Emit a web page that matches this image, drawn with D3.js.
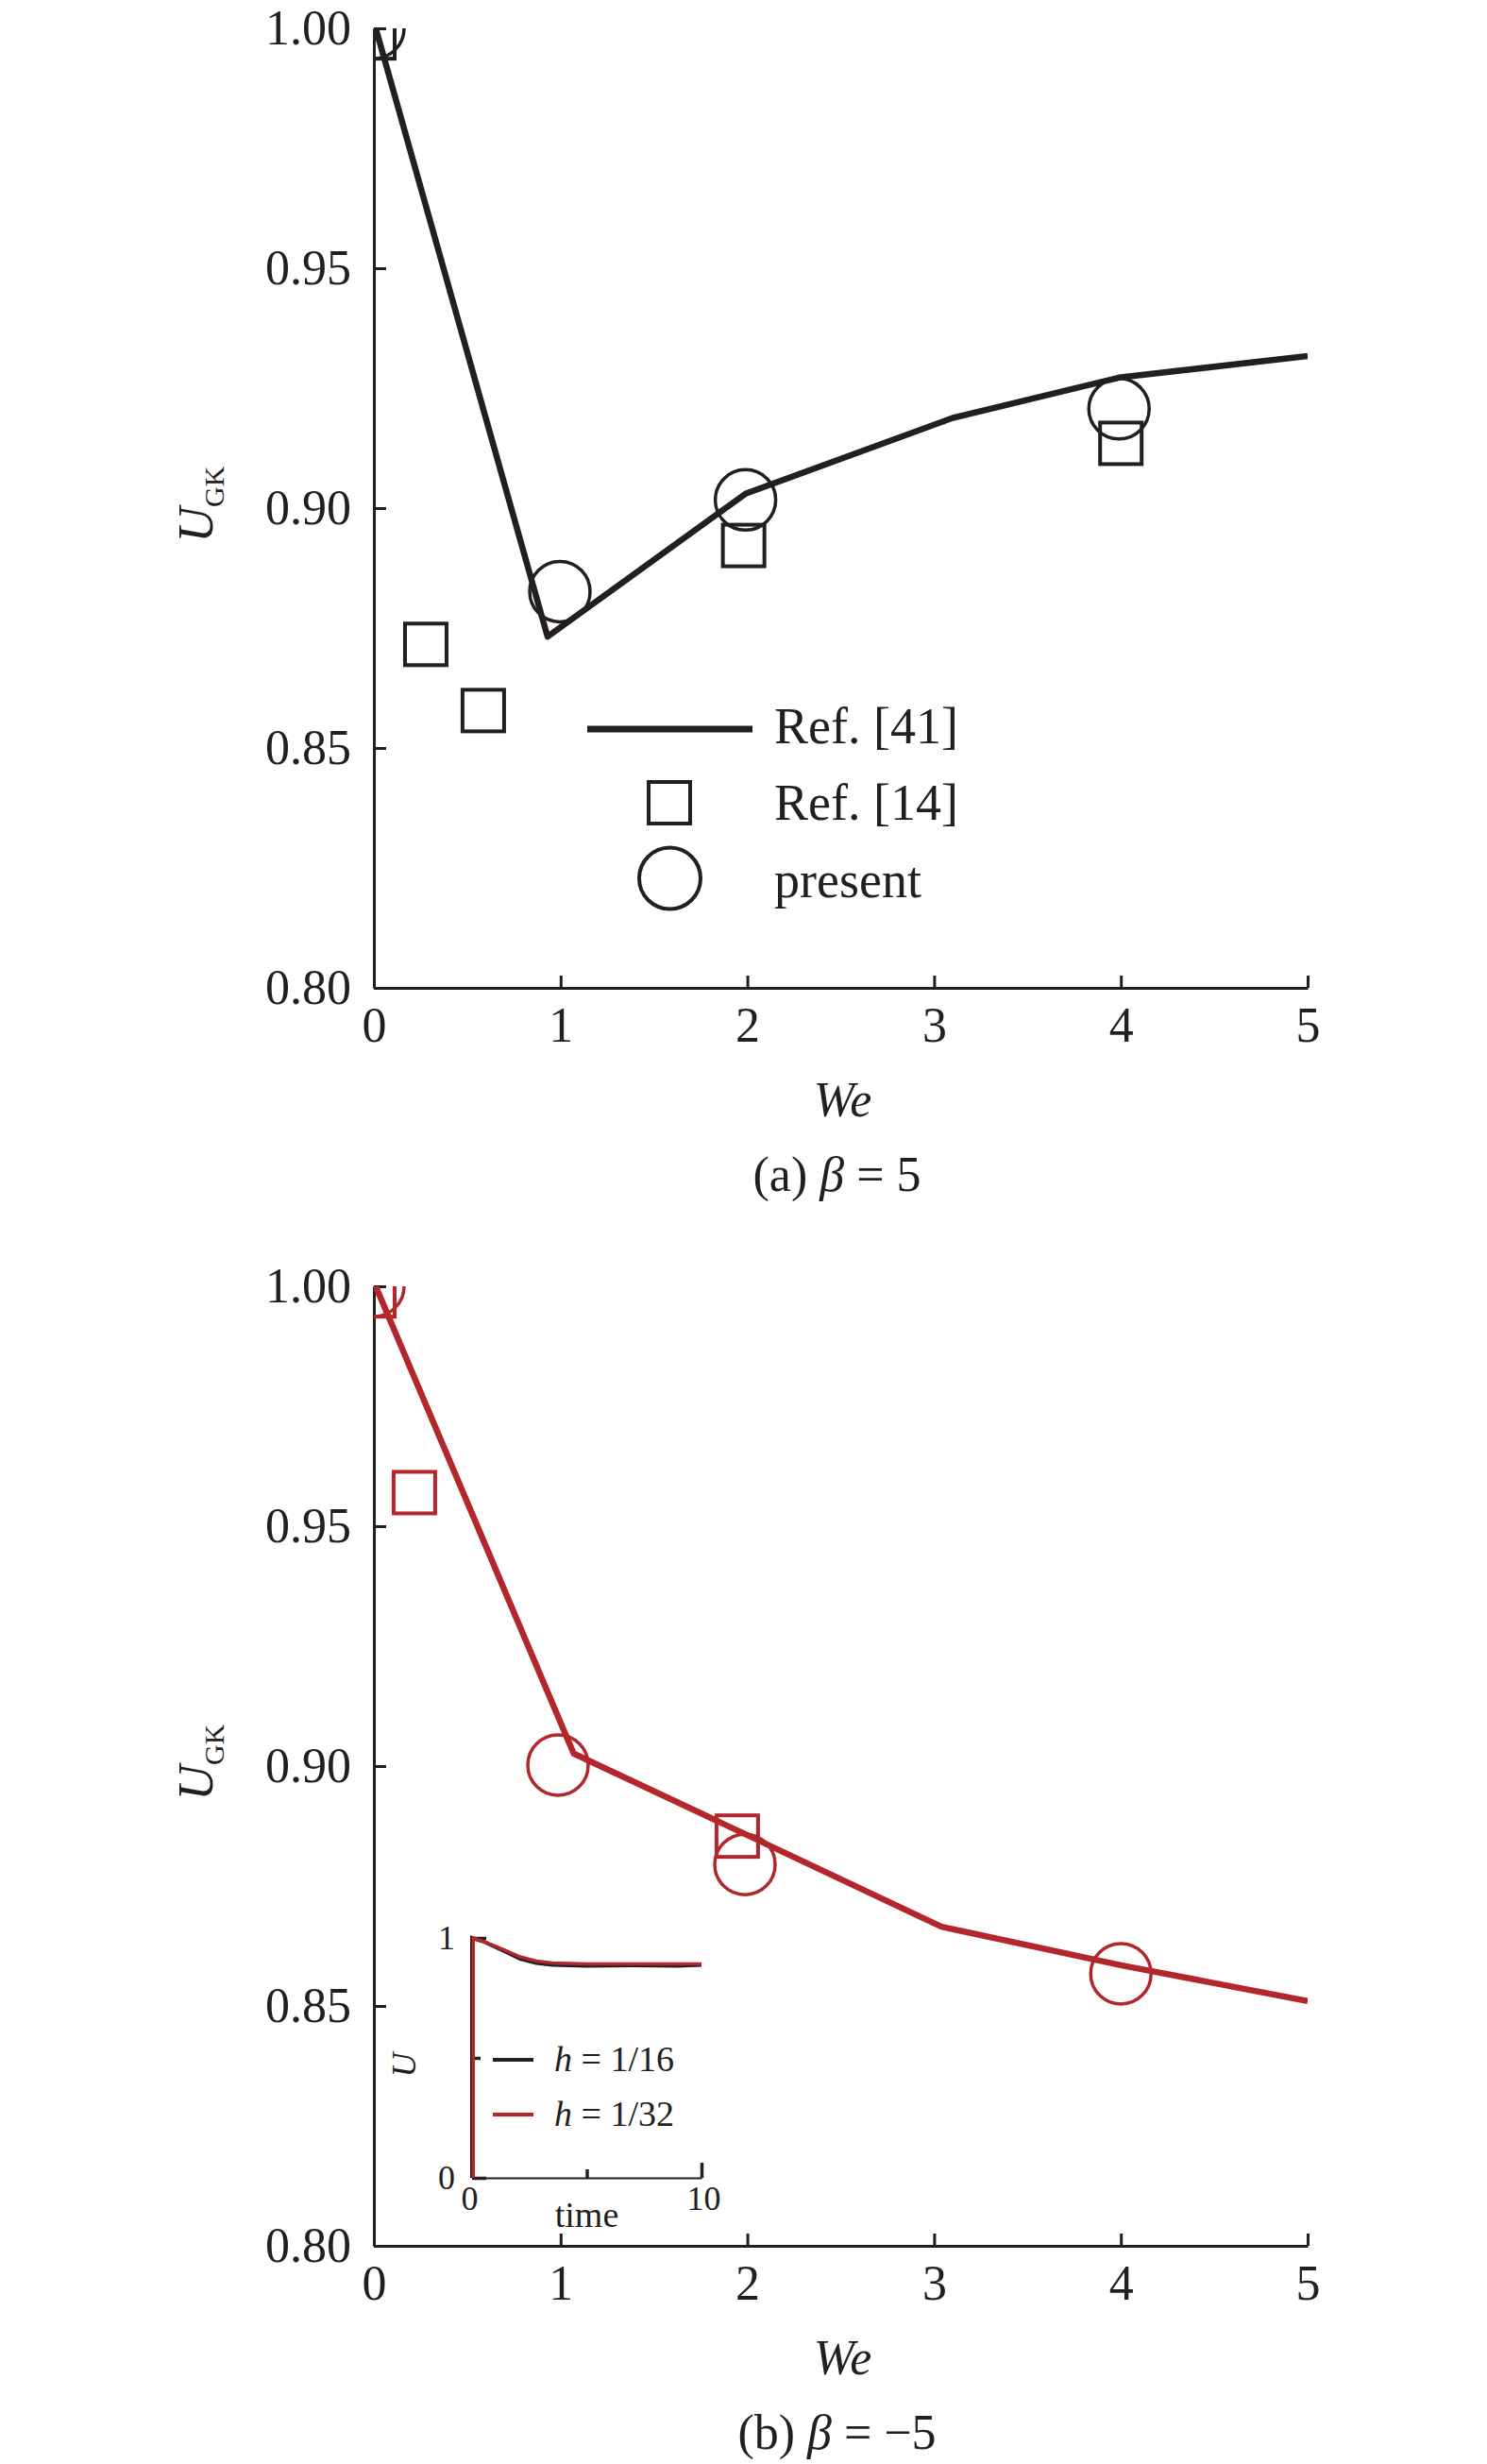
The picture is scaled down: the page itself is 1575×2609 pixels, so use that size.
<!DOCTYPE html>
<html>
<head>
<meta charset="utf-8">
<script src="https://cdn.jsdelivr.net/npm/d3@7"></script>
<style>
  body { margin: 0; background: #fff; }
  text { font-family: "Liberation Serif", "Times New Roman", serif; fill: #231f20; }
</style>
</head>
<body>
<div id="main"></div>
<script>
// axis ticks
var weTicks = [0, 1, 2, 3, 4, 5];
var uTicks = [0.80, 0.85, 0.90, 0.95, 1.00];

// (a) beta = 5  -- [We, U_GK]
var ref41A = [[0.01, 1.0], [0.93, 0.8732], [1.99, 0.9030], [3.10, 0.9188], [3.99, 0.9272], [5, 0.9317]];
var ref14A = [[0, 0.998], [0.278, 0.8716], [0.586, 0.8578], [1.98, 0.8922], [4.0, 0.9135]];
var presentA = [[0, 1.0], [0.996, 0.8826], [1.99, 0.9017], [3.99, 0.9207]];

// (b) beta = -5
var ref41B = [[0.01, 1.0], [1.07, 0.9026], [2.0, 0.8856], [3.04, 0.8665], [4.0, 0.8585], [5, 0.851]];
var ref14B = [[0, 0.998], [0.217, 0.957], [1.946, 0.8854]];
var presentB = [[0, 1.0], [0.986, 0.9002], [1.987, 0.8795], [4.0, 0.8567]];

// inset: U vs time
var insetTimeTicks = [0, 5, 10];
var insetUTicks = [0, 0.5, 1];
var insetH16 = [[0, 0], [0, 1.0], [0.5, 0.985], [1.4, 0.945], [2.1, 0.913], [2.8, 0.896], [3.5, 0.888], [5, 0.884], [7, 0.886], [9, 0.884], [10, 0.888]];
var insetH32 = [[0.05, 0], [0.05, 1.0], [0.6, 0.982], [1.4, 0.95], [2.1, 0.921], [2.8, 0.904], [3.5, 0.896], [5, 0.892], [7, 0.892], [10, 0.892]];

var BLACK = "#231f20", RED = "#b3262c";
var FONT = 52;

var svg = d3.select("#main")
  .append("svg")
  .attr("width", 1575)
  .attr("height", 2609);

function drawPanel(opt) {
  var x = d3.scaleLinear().domain([0, 5]).range([396, 1385]);
  var y = d3.scaleLinear().domain([0.80, 1.00]).range([opt.bottom, opt.bottom - 1016]);
  var g = svg.append("g");

  // clip to plot area
  var clipId = "clip" + opt.id;
  svg.append("clipPath").attr("id", clipId)
    .append("rect")
    .attr("x", x(0)).attr("y", y(1.0))
    .attr("width", x(5) - x(0)).attr("height", y(0.8) - y(1.0));

  // axes
  var xAxis = g.append("g")
    .attr("transform", "translate(0," + y(0.8) + ")")
    .call(d3.axisBottom(x).tickValues(weTicks).tickFormat(d3.format("d"))
      .tickSizeInner(-13).tickSizeOuter(0).tickPadding(20));
  var yAxis = g.append("g")
    .attr("transform", "translate(" + x(0) + ",0)")
    .call(d3.axisLeft(y).tickValues(uTicks).tickFormat(d3.format(".2f"))
      .tickSizeInner(-13).tickSizeOuter(0).tickPadding(24));
  [xAxis, yAxis].forEach(function (a) {
    a.attr("font-family", null).attr("font-size", null);
    a.select(".domain").attr("stroke", BLACK).attr("stroke-width", 3);
    a.selectAll(".tick line").attr("stroke", BLACK).attr("stroke-width", 3);
    a.selectAll(".tick text").style("font-size", FONT + "px").attr("fill", BLACK);
  });

  var plot = g.append("g").attr("clip-path", "url(#" + clipId + ")");

  // Ref. [41] line
  plot.append("path")
    .datum(opt.line)
    .attr("fill", "none")
    .attr("stroke", opt.color)
    .attr("stroke-width", 6.5)
    .attr("stroke-linejoin", "round")
    .attr("d", d3.line().x(function (d) { return x(d[0]); }).y(function (d) { return y(d[1]); }));

  // Ref. [14] squares
  plot.selectAll("rect.sq")
    .data(opt.squares)
    .enter()
    .append("rect")
    .attr("class", "sq")
    .attr("x", function (d) { return x(d[0]) - 22; })
    .attr("y", function (d) { return y(d[1]) - 22; })
    .attr("width", 44).attr("height", 44)
    .attr("fill", "none")
    .attr("stroke", opt.color)
    .attr("stroke-width", 4);

  // present circles
  plot.selectAll("circle.pr")
    .data(opt.circles)
    .enter()
    .append("circle")
    .attr("class", "pr")
    .attr("cx", function (d) { return x(d[0]); })
    .attr("cy", function (d) { return y(d[1]); })
    .attr("r", 32)
    .attr("fill", "none")
    .attr("stroke", opt.color)
    .attr("stroke-width", 3.5);

  // axis titles
  var yl = g.append("text")
    .attr("transform", "translate(225," + (y(0.9) - 4) + ") rotate(-90)")
    .attr("text-anchor", "middle")
    .style("font-size", FONT + "px");
  yl.append("tspan").style("font-style", "italic").text("U");
  yl.append("tspan").attr("dy", 12).style("font-size", "30px").text("GK");

  g.append("text")
    .attr("x", (x(0) + x(5)) / 2 + 2)
    .attr("y", y(0.8) + 136)
    .attr("text-anchor", "middle")
    .style("font-size", FONT + "px")
    .style("font-style", "italic")
    .text("We");

  var cap = g.append("text")
    .attr("x", (x(0) + x(5)) / 2 - 4)
    .attr("y", y(0.8) + 215)
    .attr("text-anchor", "middle")
    .style("font-size", FONT + "px");
  cap.append("tspan").text(opt.capA + " ");
  cap.append("tspan").style("font-style", "italic").text("β");
  cap.append("tspan").text(" = " + opt.capB);

  return { g: g, x: x, y: y };
}

var pa = drawPanel({ id: "a", bottom: 1046, color: BLACK, line: ref41A, squares: ref14A, circles: presentA, capA: "(a)", capB: "5" });
var pb = drawPanel({ id: "b", bottom: 2378, color: RED, line: ref41B, squares: ref14B, circles: presentB, capA: "(b)", capB: "−5" });

// legend for panel (a)
var leg = pa.g.append("g");
leg.append("line").attr("x1", 622).attr("x2", 797).attr("y1", 772).attr("y2", 772)
  .attr("stroke", BLACK).attr("stroke-width", 7);
leg.append("rect").attr("x", 709 - 22).attr("y", 850 - 22).attr("width", 44).attr("height", 44)
  .attr("fill", "none").attr("stroke", BLACK).attr("stroke-width", 4);
leg.append("circle").attr("cx", 709.5).attr("cy", 930).attr("r", 32.5)
  .attr("fill", "none").attr("stroke", BLACK).attr("stroke-width", 4);
[["Ref. [41]", 787], ["Ref. [14]", 868], ["present", 950]].forEach(function (t) {
  leg.append("text").attr("x", 820).attr("y", t[1]).style("font-size", "54px").text(t[0]);
});

// inset in panel (b)
var ix = d3.scaleLinear().domain([0, 10]).range([500, 743]);
var iy = d3.scaleLinear().domain([0, 1]).range([2306, 2052]);
var ins = svg.append("g");

var ixAxis = ins.append("g")
  .attr("transform", "translate(0," + iy(0) + ")")
  .call(d3.axisBottom(ix).tickValues(insetTimeTicks).tickFormat(function (d) { return d === 5 ? "" : d; })
    .tickSizeInner(-9).tickSizeOuter(0).tickPadding(8));
var iyAxis = ins.append("g")
  .attr("transform", "translate(" + ix(0) + ",0)")
  .call(d3.axisLeft(iy).tickValues(insetUTicks).tickFormat(function (d) { return d === 0.5 ? "" : d; })
    .tickSizeInner(-9).tickSizeOuter(0).tickPadding(18));
[ixAxis, iyAxis].forEach(function (a) {
  a.attr("font-family", null).attr("font-size", null);
  a.select(".domain").attr("stroke", BLACK).attr("stroke-width", 2);
  a.selectAll(".tick line").attr("stroke", BLACK).attr("stroke-width", 3.5);
  a.selectAll(".tick text").style("font-size", "36px").attr("fill", BLACK);
});
// end ticks drawn longer, as in the figure
ixAxis.selectAll(".tick line").attr("y2", function (d) { return d === 5 ? -9 : -16; });
iyAxis.selectAll(".tick line").attr("x2", function (d) { return d === 0.5 ? 9 : 15; });
ixAxis.selectAll(".tick text").attr("x", function (d) { return d === 0 ? -3 : 2; });

var iline = d3.line().x(function (d) { return ix(d[0]); }).y(function (d) { return iy(d[1]); });
ins.append("path").datum(insetH16).attr("fill", "none").attr("stroke", BLACK)
  .attr("stroke-width", 4).attr("d", iline);
ins.append("path").datum(insetH32).attr("fill", "none").attr("stroke", RED)
  .attr("stroke-width", 3.5).attr("d", iline);

ins.append("text")
  .attr("x", (ix(0) + ix(10)) / 2)
  .attr("y", 2358)
  .attr("text-anchor", "middle")
  .style("font-size", "38px")
  .text("time");
ins.append("text")
  .attr("transform", "translate(440," + iy(0.47) + ") rotate(-90)")
  .attr("text-anchor", "middle")
  .style("font-size", "36px")
  .style("font-style", "italic")
  .text("U");

[["1/16", BLACK, 2181], ["1/32", RED, 2239]].forEach(function (r) {
  ins.append("line").attr("x1", 522).attr("x2", 565).attr("y1", r[2]).attr("y2", r[2])
    .attr("stroke", r[1]).attr("stroke-width", 4);
  var t = ins.append("text").attr("x", 587).attr("y", r[2] + 12).style("font-size", "38px");
  t.append("tspan").style("font-style", "italic").text("h");
  t.append("tspan").text(" = " + r[0]);
});
</script>
</body>
</html>
